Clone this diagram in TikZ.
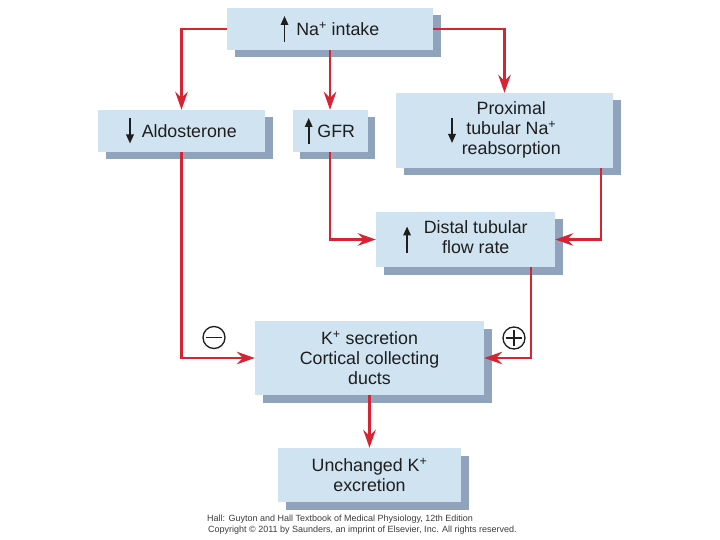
\documentclass[tikz,border=0pt]{standalone}
\usepackage{fontspec}
\setmainfont{Liberation Sans}
\usetikzlibrary{arrows.meta,shadows}
\definecolor{boxfill}{RGB}{207,227,241}
\definecolor{boxshadow}{RGB}{143,163,188}
\definecolor{linkred}{RGB}{214,36,50}
\definecolor{txt}{RGB}{30,30,30}
\definecolor{credit}{RGB}{60,60,60}
\newcommand{\arrUp}{\tikz[baseline=0pt]\draw[draw=txt,line width=1.7pt,-{Triangle[length=9pt,width=7.5pt]}] (0pt,-6pt)--(0pt,20pt);}
\newcommand{\arrDn}{\tikz[baseline=0pt]\draw[draw=txt,line width=1.7pt,-{Triangle[length=9pt,width=7.5pt]}] (0pt,19pt)--(0pt,-6pt);}
\newcommand{\midArrUp}{$\vcenter{\hbox{\arrUp}}$}
\newcommand{\midArrDn}{$\vcenter{\hbox{\arrDn}}$}
\begin{document}
\begin{tikzpicture}[x=1pt,y=-1pt,
  box/.style={fill=boxfill, inner sep=0pt, text=txt, align=center,
    font=\fontsize{17.8}{19.8}\selectfont,
    drop shadow={shadow xshift=7.5pt, shadow yshift=-7.5pt, fill=boxshadow, opacity=1}},
  link/.style={draw=linkred, line width=2.7pt,
    -{Stealth[length=18pt,width=12.5pt,inset=6pt]}},
  sign/.style={circle, draw=txt, line width=1.3pt, minimum size=22pt, inner sep=0pt},
  signbar/.style={draw=txt, line width=1.3pt},
  creditline/.style={anchor=base west, inner sep=0pt, text=credit,
    font=\fontsize{9}{11}\selectfont}]
\useasboundingbox (0,0) rectangle (720,540);
\fill[white] (0,0) rectangle (720,540);

\node[box, minimum width=206pt, minimum height=42pt] (intake) at (330,29)
  {\arrUp\hspace{8pt}Na\textsuperscript{+} intake};
\node[box, minimum width=167pt, minimum height=42pt] (aldo) at (181.5,131)
  {\arrDn\hspace{8pt}Aldosterone};
\node[box, minimum width=75pt, minimum height=42pt] (gfr) at (330,131)
  {\arrUp\hspace{5pt}GFR};
\node[box, minimum width=217pt, minimum height=75pt] (prox) at (504.5,130.5)
  {\midArrDn\hspace{6pt}\begin{tabular}{@{}c@{}}Proximal\\tubular Na\textsuperscript{+}\\reabsorption\end{tabular}};
\node[box, minimum width=179pt, minimum height=55pt] (distal) at (465.5,239.5)
  {\midArrUp\hspace{13pt}\begin{tabular}{@{}c@{}}Distal tubular\\flow rate\end{tabular}};
\node[box, minimum width=229pt, minimum height=74pt] (ksec) at (369.5,358)
  {K\textsuperscript{+} secretion\\Cortical collecting\\ducts};
\node[box, minimum width=183pt, minimum height=54pt] (unch) at (369.5,475)
  {Unchanged K\textsuperscript{+}\\excretion};

\coordinate (proxout) at ([xshift=96.5pt]prox.south);
\coordinate (distout) at ([xshift=65.5pt]distal.south);

\draw[link] (intake.west) -| (aldo.north);
\draw[link] (intake.south) -- (gfr.north);
\draw[link] (intake.east) -| (prox.north);
\draw[link] (aldo.south) |- (ksec.west);
\draw[link] (gfr.south) |- (distal.west);
\draw[link] (proxout) |- (distal.east);
\draw[link] (distout) |- (ksec.east);
\draw[link] (ksec.south) -- (unch.north);

\node[sign] (minus) at (214,337.5) {};
\draw[signbar] ([xshift=3.5pt]minus.west) -- ([xshift=-3.5pt]minus.east);
\node[sign] (plus) at (514,338) {};
\draw[signbar] ([xshift=3.5pt]plus.west) -- ([xshift=-3.5pt]plus.east);
\draw[signbar] ([yshift=-3.5pt]plus.north) -- ([yshift=3.5pt]plus.south);

\node[creditline] (credit1) at (207,521)
  {Hall: Guyton and Hall Textbook of Medical Physiology, 12th Edition};
\node[creditline] (credit2) at (208,532)
  {Copyright \textcopyright{} 2011 by Saunders, an imprint of Elsevier, Inc. All rights reserved.};
\end{tikzpicture}
\end{document}
